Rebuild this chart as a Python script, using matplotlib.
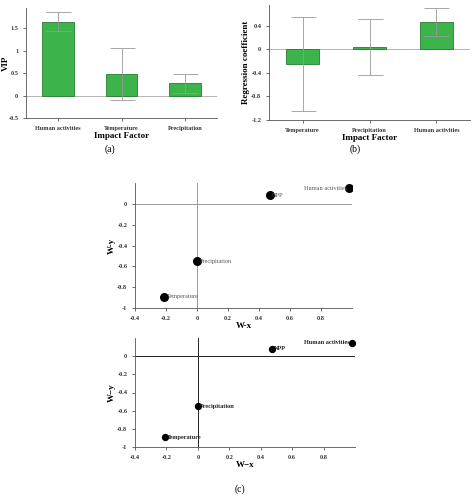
import matplotlib.pyplot as plt
import numpy as np

plt.rcParams['font.family'] = ['Liberation Serif', 'DejaVu Serif']

# (a) VIP
vip_factors = ['Human activities', 'Temperature', 'Precipitation']
vip_values = [1.63, 0.48, 0.27]
vip_low = [1.43, -0.10, 0.06]
vip_high = [1.85, 1.07, 0.48]

# (b) regression coefficients
reg_factors = ['Temperature', 'Precipitation', 'Human activities']
reg_values = [-0.25, 0.04, 0.46]
reg_low = [-1.04, -0.43, 0.23]
reg_high = [0.55, 0.52, 0.70]

# (c) loadings
pt_names = ['Human activities', 'NPP', 'Precipitation', 'Temperature']
pt_x = [0.98, 0.47, 0.00, -0.21]
pt_y = [0.15, 0.08, -0.55, -0.89]

GREEN = '#3cb44b'
W, H = 474, 498
fig = plt.figure(figsize=(W / 100, H / 100), dpi=100)


def box(l, t, r, b):
    return fig.add_axes([l / W, 1 - b / H, (r - l) / W, (b - t) / H])


def style(ax):
    for s in ['top', 'right']:
        ax.spines[s].set_visible(False)
    for s in ['left', 'bottom']:
        ax.spines[s].set_color('#555555')
        ax.spines[s].set_linewidth(0.6)
    ax.tick_params(labelsize=4.5, width=0.5, length=2, colors='#333333')
    for lab in ax.get_xticklabels() + ax.get_yticklabels():
        lab.set_fontweight('bold')


def bars(ax, names, vals, lo, hi):
    x = np.arange(len(names))
    ax.bar(x, vals, width=0.5, color=GREEN, edgecolor='#2a7a35', linewidth=0.6, zorder=2)
    err = [np.array(vals) - np.array(lo), np.array(hi) - np.array(vals)]
    ax.errorbar(x, vals, yerr=err, fmt='none', ecolor='#999999', elinewidth=0.6,
                capsize=9, capthick=0.6, zorder=3)
    ax.axhline(0, color='#aaaaaa', lw=0.6, zorder=1)
    ax.set_xticks(x)
    ax.set_xticklabels(names, fontsize=4.8, fontweight='bold')
    ax.set_xlim(-0.5, len(names) - 0.5)
    ax.set_xlabel('Impact Factor', fontsize=6.5, fontweight='bold', labelpad=1)
    ax.tick_params(axis='x', length=0)


ax1 = box(26, 8, 217, 118)
bars(ax1, vip_factors, vip_values, vip_low, vip_high)
ax1.set_ylim(-0.5, 1.95)
ax1.set_yticks([-0.5, 0, 0.5, 1, 1.5])
ax1.set_yticklabels(['-0.5', '0', '0.5', '1', '1.5'])
ax1.set_ylabel('VIP', fontsize=6.5, fontweight='bold', labelpad=0)
ax1.yaxis.set_label_coords(-0.085, 0.5)
style(ax1)
fig.text(110 / W, 1 - 152 / H, '(a)', ha='center', fontsize=7)

ax2 = box(269, 5, 470, 120)
bars(ax2, reg_factors, reg_values, reg_low, reg_high)
ax2.set_ylim(-1.2, 0.75)
ax2.set_yticks([-1.2, -0.8, -0.4, 0, 0.4])
ax2.set_yticklabels(['-1.2', '-0.8', '-0.4', '0', '0.4'])
ax2.set_ylabel('Regression coefficient', fontsize=6.5, fontweight='bold', labelpad=1)
style(ax2)
fig.text(355 / W, 1 - 152 / H, '(b)', ha='center', fontsize=7)


def scatter(ax, bold, zero_col):
    ax.scatter(pt_x, pt_y, s=30 if not bold else 18, color='black', zorder=3)
    for n, x, y in zip(pt_names, pt_x, pt_y):
        ha = 'right' if n == 'Human activities' else 'left'
        dx = -0.015 if ha == 'right' else 0.015
        ax.text(x + dx, y, n, ha=ha, va='center', fontsize=4.5,
                fontweight='bold' if bold else 'normal', color='#222222' if bold else '#555555')
    ax.axhline(0, color=zero_col, lw=0.7, zorder=1)
    ax.axvline(0, color=zero_col, lw=0.7, zorder=1)
    ax.set_xlim(-0.4, 1.0)
    ax.set_ylim(-1, 0.2)
    ax.set_xticks([-0.4, -0.2, 0, 0.2, 0.4, 0.6, 0.8])
    ax.set_xticklabels(['-0.4', '-0.2', '0', '0.2', '0.4', '0.6', '0.8'])
    ax.set_yticks([-1, -0.8, -0.6, -0.4, -0.2, 0])
    ax.set_yticklabels(['-1', '-0.8', '-0.6', '-0.4', '-0.2', '0'])
    style(ax)


ax3 = box(135, 183, 352, 308)
scatter(ax3, False, '#999999')
ax3.set_xlabel('W-x', fontsize=6.5, fontweight='bold', labelpad=1)
ax3.set_ylabel('W-y', fontsize=6.5, fontweight='bold', labelpad=1)

ax4 = box(135, 338, 355, 447)
scatter(ax4, True, '#222222')
ax4.set_xlabel('W\u2212x', fontsize=6.5, fontweight='bold', labelpad=1)
ax4.set_ylabel('W\u2212y', fontsize=6.5, fontweight='bold', labelpad=1)
fig.text(240 / W, 1 - 492 / H, '(c)', ha='center', fontsize=7)

fig.savefig('out.png', dpi=100, facecolor='white')
